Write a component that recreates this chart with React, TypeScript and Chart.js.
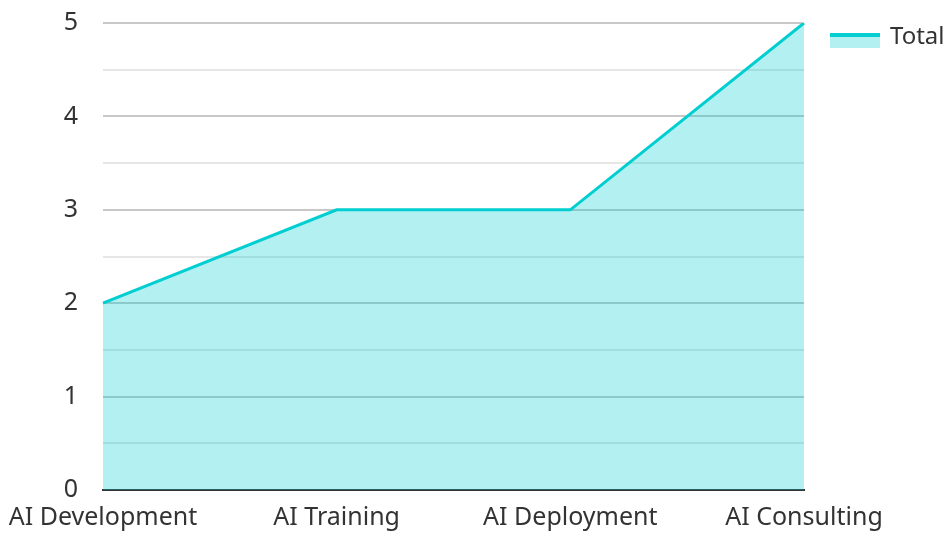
import React, { useEffect, useRef } from "react";
import { Chart, registerables } from "chart.js";

Chart.register(...registerables);

const categories = ["AI Development", "AI Training", "AI Deployment", "AI Consulting"];
const totals = [2, 3, 3, 5];
const seriesName = "Total";

const LINE = "#00CED1";
const FILL = "rgba(0, 206, 209, 0.3)";
const FONT = "'Noto Sans', sans-serif";
const FS = 25;
const LEGEND_FS = 24;

const legendPlugin = {
  id: "customLegend",
  afterDraw(chart: any) {
    const ctx = chart.ctx;
    const x = chart.chartArea.right + 26;
    const y = chart.chartArea.top + 10;
    ctx.save();
    ctx.fillStyle = FILL;
    ctx.fillRect(x, y, 50, 15);
    ctx.fillStyle = LINE;
    ctx.fillRect(x, y, 50, 4);
    ctx.fillStyle = "#333";
    ctx.font = `${LEGEND_FS}px ${FONT}`;
    ctx.textBaseline = "alphabetic";
    ctx.textAlign = "left";
    ctx.fillText(seriesName, x + 60, y + 11);
    ctx.restore();
  },
};

export default function App() {
  const ref = useRef<HTMLCanvasElement>(null);
  useEffect(() => {
    document.body.style.margin = "0";
    const chart = new Chart(ref.current!, {
      type: "line",
      data: {
        labels: categories,
        datasets: [
          {
            label: seriesName,
            data: totals,
            borderColor: LINE,
            backgroundColor: FILL,
            borderWidth: 3,
            fill: "origin",
            pointRadius: 0,
            tension: 0,
          },
        ],
      },
      options: {
        animation: false,
        responsive: false,
        maintainAspectRatio: false,
        layout: { padding: { top: 23, right: 142, bottom: 0, left: 0 } },
        plugins: {
          tooltip: { enabled: false },
          legend: { display: false },
        },
        scales: {
          x: {
            offset: false,
            grid: { display: false, drawTicks: false },
            border: { display: true, color: "#333", width: 2 },
            ticks: {
              color: "#333",
              font: { family: FONT, size: FS },
              padding: 13,
              maxRotation: 0,
              autoSkip: false,
            },
            afterFit: (s: any) => {
              s.height = 43;
              s.paddingLeft = 0;
              s.paddingRight = 0;
            },
          },
          y: {
            min: 0,
            max: 5,
            grid: {
              drawTicks: false,
              lineWidth: 2,
              color: (c: any) =>
                c.tick && Number.isInteger(c.tick.value) ? "#c8c8c8" : "#e6e6e6",
            },
            border: { display: false },
            ticks: {
              stepSize: 0.5,
              padding: 25,
              color: "#333",
              font: { family: FONT, size: FS },
              callback: (v: any) => (Number.isInteger(v) ? String(v) : ""),
            },
            afterFit: (s: any) => {
              s.width = 103;
              s.paddingTop = 0;
              s.paddingBottom = 0;
            },
          },
        },
      },
      plugins: [legendPlugin],
    });
    return () => chart.destroy();
  }, []);
  return <canvas ref={ref} width={946} height={533} style={{ display: "block" }} />;
}
